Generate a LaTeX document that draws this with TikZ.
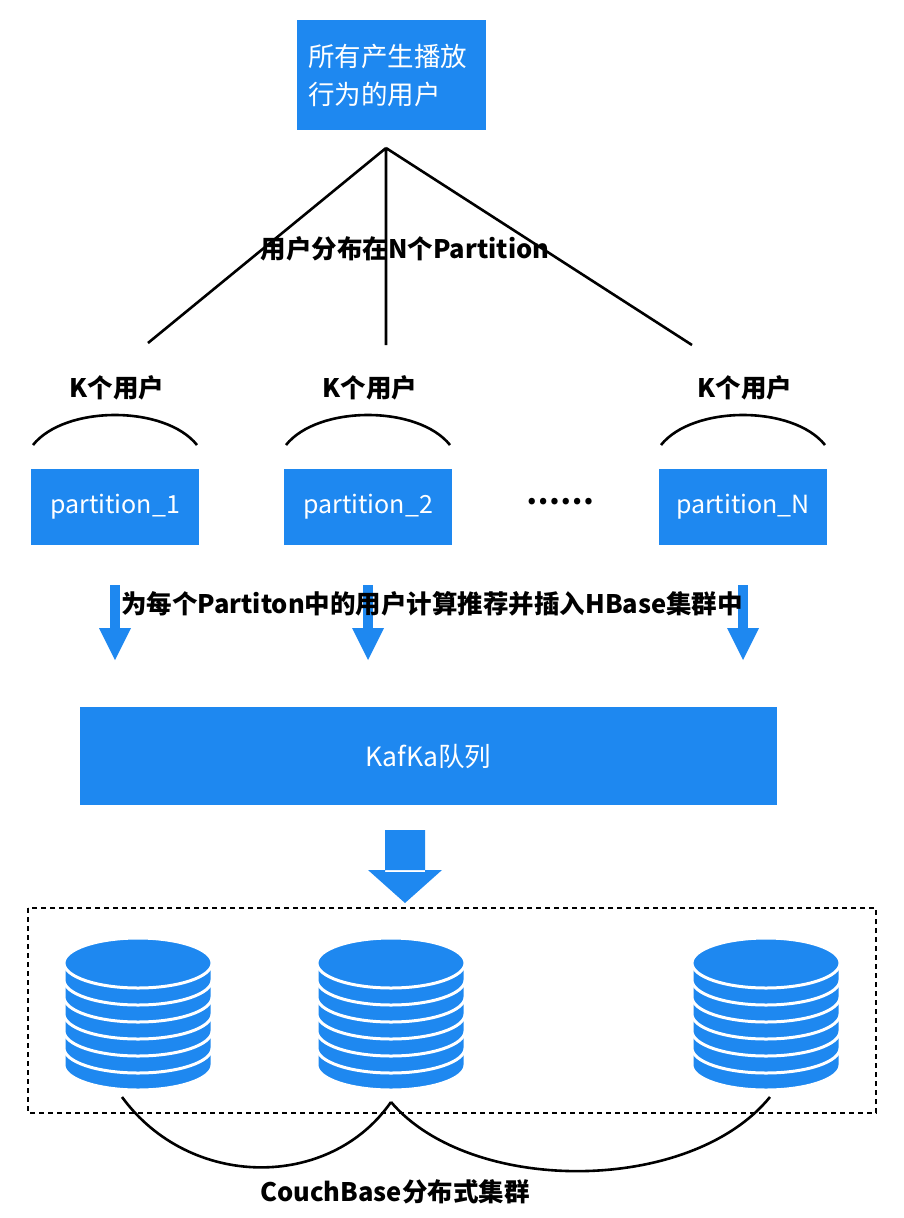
\documentclass[tikz,border=0pt]{standalone}
\usepackage{fontspec}
\setmainfont{Noto Sans CJK SC}
\definecolor{mblue}{HTML}{1E88F0}
\begin{document}
\begin{tikzpicture}[x=1pt,y=-1pt,
  box/.style={fill=mblue,text=white,inner sep=0pt},
  lbl/.style={font=\fontsize{25.5}{28}\selectfont\bfseries,inner sep=1pt},
  line/.style={line width=2.6pt}]
\useasboundingbox (0,0) rectangle (904,1218);
% top box
\node[box,minimum width=189pt,minimum height=110pt,anchor=north west,align=left,
  font=\fontsize{26.5}{38}\selectfont] (top) at (297,20) {\hspace*{-8pt}所有产生播放\\\hspace*{-8pt}行为的用户};
\coordinate (hub) at (386,148);
\coordinate (e1) at (148,343);
\coordinate (e2) at (386,345);
\coordinate (e3) at (692,345);
\draw[line] (hub) -- (e1) (hub) -- (e2) (hub) -- (e3);
\node[lbl] (dist) at (405,249) {用户分布在N个Partition};
% partitions
\foreach \n/\x/\t in {1/115/partition\_1,2/368/partition\_2,3/743/partition\_N}{
  \node[box,minimum width=168pt,minimum height=76pt,font=\fontsize{25}{28}\selectfont] (p\n) at (\x,507) {\t};
  \node[lbl] (k\n) at (\x+2,388) {K个用户};
  \coordinate (al\n) at (\x-82,445);
  \coordinate (ar\n) at (\x+82,445);
  \draw[line] (al\n) .. controls (\x-50,405) and (\x+50,405) .. (ar\n);
  \fill[mblue] (\x-5,585) rectangle (\x+5,630);
  \fill[mblue] (\x-16,628) -- (\x+16,628) -- (\x,660) -- cycle;
}
\node[font=\fontsize{30}{30}\selectfont\bfseries] (dots) at (560,502) {……};
\node[lbl] (calc) at (432,604) {为每个Partiton中的用户计算推荐并插入HBase集群中};
% kafka
\node[box,minimum width=697pt,minimum height=98pt,font=\fontsize{26.5}{28}\selectfont] (kafka) at (428.5,756) {KafKa队列};
\fill[mblue] (385,830) rectangle (425,872) (368,870) -- (442,870) -- (405,903) -- cycle;
% cluster
\draw[line width=2pt,dash pattern=on 5pt off 4pt] (28,908) rectangle (876,1113);
\foreach \c in {138,391,766}{
  \foreach \k in {6,5,4,3,2,1}{
    \filldraw[mblue,draw=white,line width=3pt] (\c-74,963+17*\k-17) -- (\c-74,963+17*\k)
      arc[start angle=180,end angle=0,x radius=74,y radius=25] -- (\c+74,963+17*\k-17) -- cycle;
  }
  \filldraw[mblue,draw=white,line width=3pt] (\c,963) ellipse[x radius=74,y radius=25];
}
\coordinate (b1) at (122,1097);
\coordinate (b2) at (391,1102);
\coordinate (b3) at (770,1097);
\draw[line] (b1) .. controls (190,1190) and (330,1190) .. (b2);
\draw[line] (b2) .. controls (470,1195) and (690,1195) .. (b3);
\node[lbl] (couch) at (395,1192) {CouchBase分布式集群};
\end{tikzpicture}
\end{document}
